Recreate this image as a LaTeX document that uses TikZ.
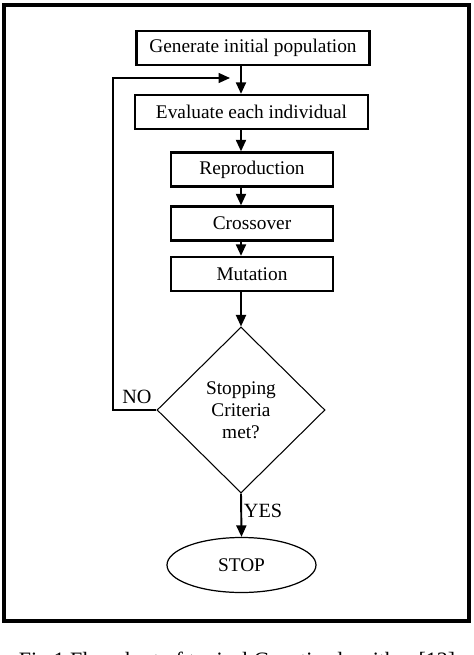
\documentclass[tikz,border=0pt]{standalone}
\usepackage{fontspec}
\setmainfont{Liberation Serif}
\usetikzlibrary{shapes.geometric,arrows.meta}

\begin{document}
\begin{tikzpicture}[
    stepbox/.style={draw=black,line width=1.3pt,minimum height=0.68cm,inner sep=0pt,
        font=\fontsize{11}{12}\selectfont},
    decision/.style={draw=black,diamond,aspect=1,line width=0.6pt,minimum width=3.36cm,
        minimum height=3.32cm,inner sep=0pt,align=center,font=\fontsize{11}{12.5}\selectfont},
    terminal/.style={draw=black,ellipse,line width=0.7pt,minimum width=2.98cm,
        minimum height=1.1cm,inner sep=0pt,font=\fontsize{11}{12}\selectfont},
    flow/.style={-{Triangle[length=0.23cm,width=0.2cm]},line width=1.1pt},
    tag/.style={font=\fontsize{11.5}{13}\selectfont}
]
    \useasboundingbox (0,0) rectangle (9.48,-13.1);
    \draw[line width=2.4pt] (0.08,-0.1) rectangle (9.38,-12.42);

    \node[stepbox,minimum width=4.66cm] at (5.06,-0.96) (gen) {Generate initial population};
    \node[stepbox,minimum width=4.66cm] at (5.03,-2.24) (eval) {Evaluate each individual};
    \node[stepbox,minimum width=3.24cm] at (5.04,-3.39) (repro) {Reproduction};
    \node[stepbox,minimum width=3.24cm] at (5.04,-4.47) (cross) {Crossover};
    \node[stepbox,minimum width=3.24cm] at (5.04,-5.48) (mut) {Mutation};

    \node[decision] at (4.82,-8.2) (crit) {Stopping\\Criteria\\met?};
    \node[terminal] at (4.83,-11.3) (stop) {STOP};

    \path[flow] (gen.south -| crit.north) edge (eval.north -| crit.north);
    \path[flow] (eval.south -| crit.north) edge (repro.north -| crit.north);
    \path[flow] (repro.south -| crit.north) edge (cross.north -| crit.north);
    \path[flow] (cross.south -| crit.north) edge (mut.north -| crit.north);
    \path[flow] (mut.south -| crit.north) edge (crit.north);
    \path[flow] (crit.south) edge node [pos=0.4,right,inner sep=1pt,tag] {YES} (stop.north);

    % loop back when criteria not met
    \coordinate (turn) at (2.26,-1.56);
    \coordinate (back) at (4.6,-1.56);
    \draw[flow,line width=0.9pt] (crit.west) -| (turn) -- (back);
    \node[tag] at (2.74,-7.94) (no) {NO};

    \node[anchor=base,font=\fontsize{12.5}{14}\selectfont] at (4.74,-13.35) (cap)
        {Fig.1 Flowchart of typical Genetic algorithm [13]};
\end{tikzpicture}
\end{document}
